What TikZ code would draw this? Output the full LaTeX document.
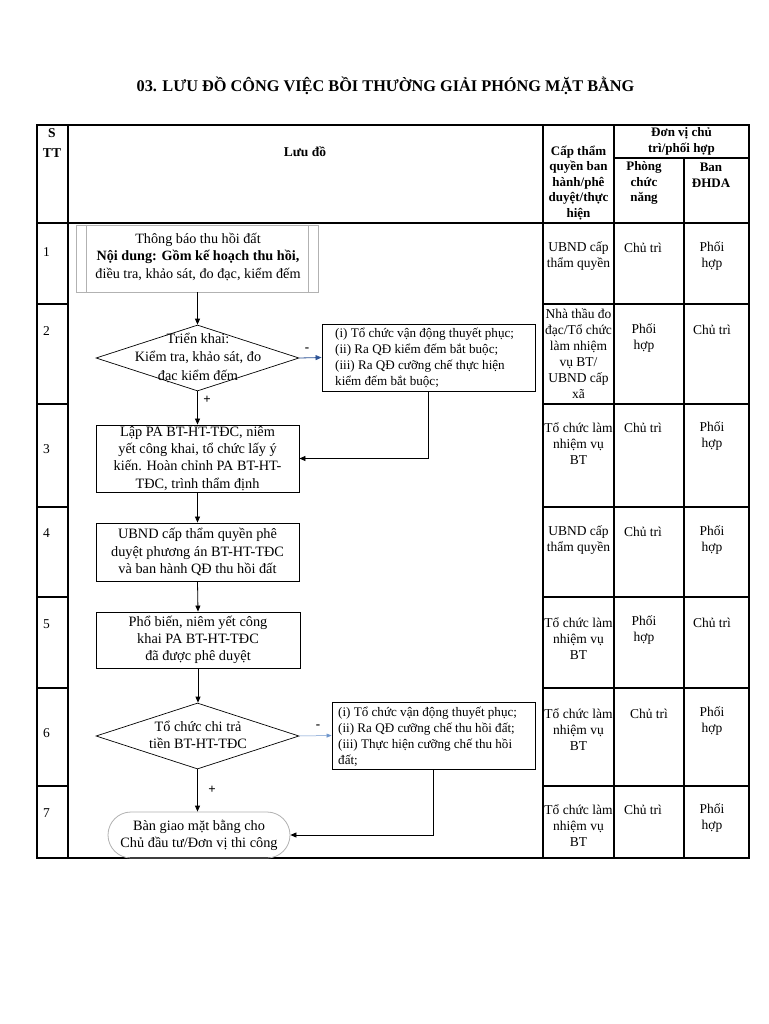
\documentclass[tikz,border=0pt]{standalone}
\usepackage{fontspec}
\setmainfont{Liberation Serif}
\usetikzlibrary{shapes.geometric,arrows.meta}
\definecolor{blueA}{RGB}{46,84,150}
\definecolor{blueB}{RGB}{110,150,205}
\tikzset{
  cell/.style={align=center, inner sep=0pt, font=\fontsize{13.5}{16}\selectfont},
  hcell/.style={align=center, inner sep=0pt, font=\bfseries\fontsize{13}{15.5}\selectfont},
  rownum/.style={anchor=west, inner sep=0pt, font=\fontsize{13.5}{16}\selectfont},
  flowbox/.style={draw=black, line width=0.9pt, minimum width=203pt, align=center, inner sep=0pt, font=\fontsize{14.3}{17.3}\selectfont},
  sidebox/.style={draw=black, line width=0.9pt, minimum height=67pt, inner sep=0pt},
  sidetext/.style={align=left, inner sep=0pt, anchor=west, font=\fontsize{13.1}{16}\selectfont},
  dia/.style={draw=black, line width=0.7pt, diamond, minimum width=203pt, minimum height=66pt, inner sep=0pt},
  diatext/.style={align=center, inner sep=0pt, font=\fontsize{14.3}{18}\selectfont},
  flowarrow/.style={line width=0.8pt, -{Triangle[length=6pt,width=5pt]}},
  gridline/.style={line width=1.1pt, black},
  sign/.style={font=\bfseries\fontsize{13}{13}\selectfont, inner sep=0pt},
}
\begin{document}
\begin{tikzpicture}[x=1pt,y=-1pt]
\fill[white] (0,0) rectangle (768,1024);
\useasboundingbox (0,0) rectangle (768,1024);

% title
\node[font=\bfseries\fontsize{16.3}{19}\selectfont, inner sep=0pt] (title) at (385.5,86)
  {03. LƯU ĐỒ CÔNG VIỆC BỒI THƯỜNG GIẢI PHÓNG MẶT BẰNG};

% table grid
\draw[gridline] (37,125) rectangle (749,858);
\draw[gridline] (68,125) -- (68,858);
\draw[gridline] (543,125) -- (543,858);
\draw[gridline] (614,125) -- (614,858);
\draw[gridline] (684,158) -- (684,858);
\draw[gridline] (614,158) -- (749,158);
\draw[gridline] (37,223) -- (749,223);
\foreach \yy in {304,404,507,597,688,786}{
  \draw[gridline] (37,\yy) -- (68,\yy);
  \draw[gridline] (543,\yy) -- (749,\yy);
}

% header
\node[hcell, font=\bfseries\fontsize{13.5}{20}\selectfont] (hstt) at (52,143) {S\\TT};
\node[hcell, font=\bfseries\fontsize{13.5}{16}\selectfont] (hluu) at (305,152) {Lưu đồ};
\node[hcell] (hcap) at (578.5,183) {Cấp thẩm\\quyền ban\\hành/phê\\duyệt/thực\\hiện};
\node[hcell, font=\bfseries\fontsize{13}{16}\selectfont] (hdv) at (681.5,141) {Đơn vị chủ\\trì/phối hợp};
\node[hcell] (hphong) at (644,183) {Phòng\\chức\\năng};
\node[hcell] (hban) at (711,175.5) {Ban\\ĐHDA};

% row numbers
\node[rownum] (n1) at (43,252) {1};
\node[rownum] (n2) at (43,331) {2};
\node[rownum] (n3) at (43,449) {3};
\node[rownum] (n4) at (43,533) {4};
\node[rownum] (n5) at (43,624) {5};
\node[rownum] (n6) at (43,733) {6};
\node[rownum] (n7) at (43,813) {7};

% right columns
\node[cell] (c1) at (578.5,256.5) {UBND cấp\\thẩm quyền};
\node[cell] (p1) at (643,248) {Chủ trì};
\node[cell] (q1) at (712,256.5) {Phối\\hợp};

\node[cell] (c2) at (578.5,353.5) {Nhà thầu đo\\đạc/Tổ chức\\làm nhiệm\\vụ BT/\\UBND cấp\\xã};
\node[cell] (p2) at (644,338) {Phối\\hợp};
\node[cell] (q2) at (712,330) {Chủ trì};

\node[cell] (c3) at (578.5,444) {Tổ chức làm\\nhiệm vụ\\BT};
\node[cell] (p3) at (643,428) {Chủ trì};
\node[cell] (q3) at (712,436) {Phối\\hợp};

\node[cell] (c4) at (578.5,540) {UBND cấp\\thẩm quyền};
\node[cell] (p4) at (643,532) {Chủ trì};
\node[cell] (q4) at (712,540) {Phối\\hợp};

\node[cell] (c5) at (578.5,638.5) {Tổ chức làm\\nhiệm vụ\\BT};
\node[cell] (p5) at (644,630.5) {Phối\\hợp};
\node[cell] (q5) at (712,623) {Chủ trì};

\node[cell] (c6) at (578.5,729.5) {Tổ chức làm\\nhiệm vụ\\BT};
\node[cell] (p6) at (649,714) {Chủ trì};
\node[cell] (q6) at (712,721.5) {Phối\\hợp};

\node[cell] (c7) at (578.5,826) {Tổ chức làm\\nhiệm vụ\\BT};
\node[cell] (p7) at (643,810) {Chủ trì};
\node[cell] (q7) at (712,818) {Phối\\hợp};

% flowchart
\node[draw=black!30, line width=0.8pt, minimum width=242pt, minimum height=67pt, inner sep=0pt] (b1) at (197,258.5) {};
\draw[black!30, line width=0.8pt] ([xshift=11pt]b1.north west) -- ([xshift=11pt]b1.south west);
\draw[black!30, line width=0.8pt] ([xshift=-10pt]b1.north east) -- ([xshift=-10pt]b1.south east);
\node[align=center, inner sep=0pt, font=\fontsize{14.2}{17.5}\selectfont] (b1t) at (198,257)
  {Thông báo thu hồi đất\\\textbf{Nội dung: Gồm kế hoạch thu hồi,}\\điều tra, khảo sát, đo đạc, kiểm đếm};

\node[dia] (d2) at (197.5,358) {};
\node[diatext] (d2t) at (198,358) {Triển khai:\\Kiểm tra, khảo sát, đo\\đạc kiểm đếm};

\node[sidebox, minimum width=213pt] (s2) at (428.5,357.5) {};
\node[sidetext] (s2t) at (335,357.5) {(i) Tổ chức vận động thuyết phục;\\(ii) Ra QĐ kiểm đếm bắt buộc;\\(iii) Ra QĐ cưỡng chế thực hiện\\kiểm đếm bắt buộc;};

\node[flowbox, minimum height=67pt] (b3) at (197.5,458.5) {Lập PA BT-HT-TĐC, niêm\\yết công khai, tổ chức lấy ý\\kiến. Hoàn chỉnh PA BT-HT-\\TĐC, trình thẩm định};
\node[flowbox, minimum height=58pt] (b4) at (197.5,552) {UBND cấp thẩm quyền phê\\duyệt phương án BT-HT-TĐC\\và ban hành QĐ thu hồi đất};
\node[flowbox, minimum height=56pt, minimum width=204pt] (b5) at (198,640) {Phổ biến, niêm yết công\\khai PA BT-HT-TĐC\\đã được phê duyệt};

\node[dia] (d6) at (197.5,736) {};
\node[diatext, font=\fontsize{14.3}{16.5}\selectfont] (d6t) at (198,735) {Tổ chức chi trả\\tiền BT-HT-TĐC};

\node[sidebox, minimum width=203pt] (s6) at (433.5,735.5) {};
\node[sidetext] (s6t) at (338,737) {(i) Tổ chức vận động thuyết phục;\\(ii) Ra QĐ cưỡng chế thu hồi đất;\\(iii) Thực hiện cưỡng chế thu hồi\\đất;};

\node[draw=black!30, line width=0.8pt, rounded corners=23pt, minimum width=182pt, minimum height=46pt, inner sep=0pt, align=center, font=\fontsize{14.3}{17}\selectfont] (t7) at (199,835) {Bàn giao mặt bằng cho\\Chủ đầu tư/Đơn vị thi công};

% connectors
\draw[flowarrow] (b1.south -| d2.north) -- (d2.north);
\draw[flowarrow, blueA] (d2.east) -- (s2.west);
\node[sign] (m2) at (307,350) {-};
\draw[flowarrow] (d2.south) -- (b3.north);
\node[sign] (pl2) at (207,400) {+};
\draw[flowarrow] (s2.south) |- (b3.east);
\draw[flowarrow] (b3.south) -- (b4.north);
\draw[flowarrow] (b4.south) -- (b5.north);
\draw[flowarrow] (b5.south) -- (b5.south |- d6.north);
\draw[line width=0.5pt, blueB, -{Triangle[length=5pt,width=4pt]}] (d6.east) -- (s6.west);
\node[sign] (m6) at (318,727) {-};
\draw[flowarrow] (d6.south) -- (d6.south |- t7.north);
\node[sign] (pl6) at (212,790) {+};
\draw[flowarrow] (s6.south) |- (t7.east);
\end{tikzpicture}
\end{document}
